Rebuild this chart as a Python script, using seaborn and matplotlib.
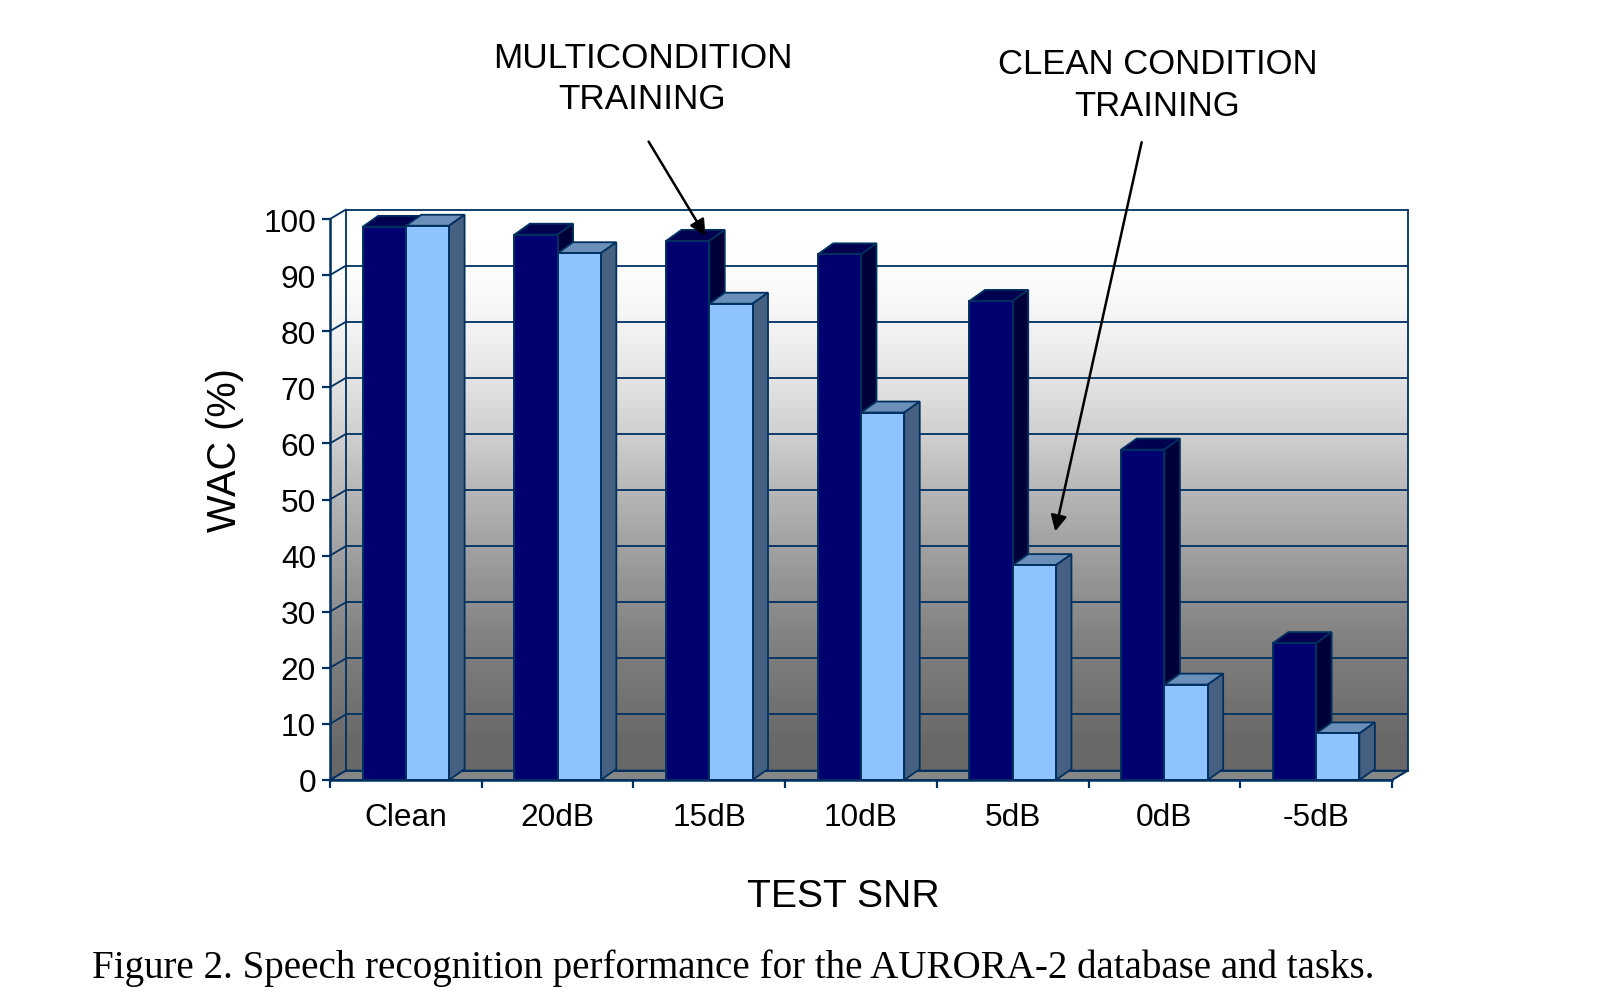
import numpy as np
import pandas as pd
import matplotlib
matplotlib.use("Agg")
import matplotlib.pyplot as plt
from matplotlib.patches import Polygon
import seaborn as sns

categories = ["Clean", "20dB", "15dB", "10dB", "5dB", "0dB", "-5dB"]
multicondition = [98.6, 97.2, 96.1, 93.7, 85.4, 58.9, 24.4]
clean_condition = [98.8, 93.9, 84.9, 65.5, 38.3, 17.0, 8.3]
y_ticks = list(range(0, 101, 10))
wall_gray = [255, 250, 240, 224, 205, 183, 163, 145, 128, 116, 104]  # top to bottom

INK = "#003060"
SERIES_A = {"front": "#000070", "top": "#000050", "side": "#000038"}
SERIES_B = {"front": "#8FC3FF", "top": "#6A8FB8", "side": "#456080"}

sns.set_theme(style="white")
plt.rcParams["font.family"] = ["Liberation Sans", "DejaVu Sans"]

W, H = 1620, 1004
fig = plt.figure(figsize=(W / 100, H / 100), dpi=100, facecolor="white")
L, R, B, T = 330, 1392, 781, 220
ax = fig.add_axes([L / W, 1 - B / H, (R - L) / W, (B - T) / H], facecolor="none")

table = pd.DataFrame({
    "snr": categories * 2,
    "wac": multicondition + clean_condition,
    "training": ["multi"] * 7 + ["clean"] * 7,
})
sns.barplot(data=table, x="snr", y="wac", hue="training", hue_order=["multi", "clean"],
            order=categories, palette=[SERIES_A["front"], SERIES_B["front"]],
            width=0.57, gap=0, dodge=True, legend=False, saturation=1,
            edgecolor=INK, linewidth=1.4, ax=ax, zorder=10)

ax.set_xlim(-0.5, 6.5)
ax.set_ylim(0, 100)
px_x = (R - L) / 7  # pixels per category
px_y = (B - T) / 100  # pixels per percentage point
wall_dx, wall_dy = 16 / px_x, 9.5 / px_y
bar_dx, bar_dy = 15.5 / px_x, 11 / px_y

# Back wall, side wall and floor of the 3-D box
shade = np.array(wall_gray, dtype=float).reshape(-1, 1)
ax.imshow(shade, cmap="gray", vmin=0, vmax=255, aspect="auto", interpolation="bilinear",
          extent=[-0.5 + wall_dx, 6.5 + wall_dx, wall_dy, 100 + wall_dy],
          clip_on=False, zorder=1)
side_img = ax.imshow(shade, cmap="gray", vmin=0, vmax=255, aspect="auto", interpolation="bilinear",
                     extent=[-0.5, -0.5 + wall_dx, 0, 100 + wall_dy], zorder=1)
side_poly = Polygon([(-0.5, 0), (-0.5 + wall_dx, wall_dy), (-0.5 + wall_dx, 100 + wall_dy), (-0.5, 100)],
                    closed=True, transform=ax.transData, facecolor="none", edgecolor="none", clip_on=False)
ax.add_patch(side_poly)
side_img.set_clip_path(side_poly)
ax.add_patch(Polygon([(-0.5, 0), (6.5, 0), (6.5 + wall_dx, wall_dy), (-0.5 + wall_dx, wall_dy)],
                     closed=True, facecolor="#868686", edgecolor=INK, linewidth=1.2,
                     clip_on=False, zorder=2))
ax.set_xlim(-0.5, 6.5)
ax.set_ylim(0, 100)

grid_x = [-0.5 + wall_dx, 6.5 + wall_dx]
for v in y_ticks:
    ax.plot(grid_x, [v + wall_dy] * 2, color=INK, lw=1.3, clip_on=False, zorder=3)
    ax.plot([-0.5, -0.5 + wall_dx], [v, v + wall_dy], color=INK, lw=1.3, clip_on=False, zorder=3)
for xw in grid_x:
    ax.plot([xw, xw], [wall_dy, 100 + wall_dy], color=INK, lw=1.3, clip_on=False, zorder=3)
ax.plot([6.5, 6.5 + wall_dx], [0, wall_dy], color=INK, lw=1.3, clip_on=False, zorder=3)


def shade_box(bar, faces, z):
    """Add the top and right faces behind a seaborn bar so that it reads as a box."""
    x0, w, h = bar.get_x(), bar.get_width(), bar.get_height()
    x1 = x0 + w
    top = [(x0, h), (x1, h), (x1 + bar_dx, h + bar_dy), (x0 + bar_dx, h + bar_dy)]
    side = [(x1, 0), (x1 + bar_dx, bar_dy), (x1 + bar_dx, h + bar_dy), (x1, h)]
    for pts, face in ((top, faces["top"]), (side, faces["side"])):
        ax.add_patch(Polygon(pts, closed=True, facecolor=face, edgecolor=INK, linewidth=1.3,
                             joinstyle="miter", clip_on=False, zorder=z))
    bar.set_zorder(z + 0.1)
    bar.set_clip_on(False)
    bar.set_joinstyle("miter")


for i, (bars, faces) in enumerate(zip(ax.containers, (SERIES_A, SERIES_B))):
    for bar in bars:
        shade_box(bar, faces, 10 + i)

# Ticks sit on category boundaries, labels in between
ax.set_xticks(np.arange(-0.5, 7, 1), labels=[])
ax.set_xticks(np.arange(7), labels=categories, minor=True)
ax.set_yticks(y_ticks)
ax.tick_params(axis="x", which="major", length=6, width=1.6, color=INK, direction="out", bottom=True)
ax.tick_params(axis="x", which="minor", length=0, pad=15.5, labelsize=22.8, labelcolor="black")
ax.tick_params(axis="y", length=6, width=1.6, color=INK, direction="out", left=True, pad=4,
               labelsize=22.8, labelcolor="black")
for name, spine in ax.spines.items():
    spine.set_visible(name in ("left", "bottom"))
    spine.set_color(INK)
    spine.set_linewidth(1.8)
    spine.set_zorder(20)
ax.set_xlabel("")
ax.set_ylabel("")

fig.text(225 / W, 1 - 450 / H, "WAC (%)", rotation=90, ha="center", va="center", fontsize=28.6, color="black")
fig.text(843 / W, 1 - 897 / H, "TEST SNR", ha="center", va="center", fontsize=28.2, color="black")
fig.text(642.5 / W, 1 - 79 / H, "MULTICONDITION\nTRAINING", ha="center", va="center",
         fontsize=25.3, color="black", linespacing=1.32)
fig.text(1157.5 / W, 1 - 85.5 / H, "CLEAN CONDITION\nTRAINING", ha="center", va="center",
         fontsize=24.9, color="black", linespacing=1.32)
fig.text(92 / W, 1 - 968 / H, "Figure 2. Speech recognition performance for the AURORA-2 database and tasks.",
         ha="left", va="center", fontsize=28.1, color="black", family=["Liberation Serif", "DejaVu Serif"])

arrow = dict(arrowstyle="-|>,head_length=0.8,head_width=0.4", color="black", lw=1.8,
             shrinkA=0, shrinkB=0)
ax.annotate("", xy=(1.975, 97.0), xytext=(1.6, 113.8), arrowprops=arrow, annotation_clip=False, zorder=30)
ax.annotate("", xy=(4.28, 44.3), xytext=(4.85, 113.7), arrowprops=arrow, annotation_clip=False, zorder=30)

fig.savefig("out.png", dpi=100, facecolor="white")
